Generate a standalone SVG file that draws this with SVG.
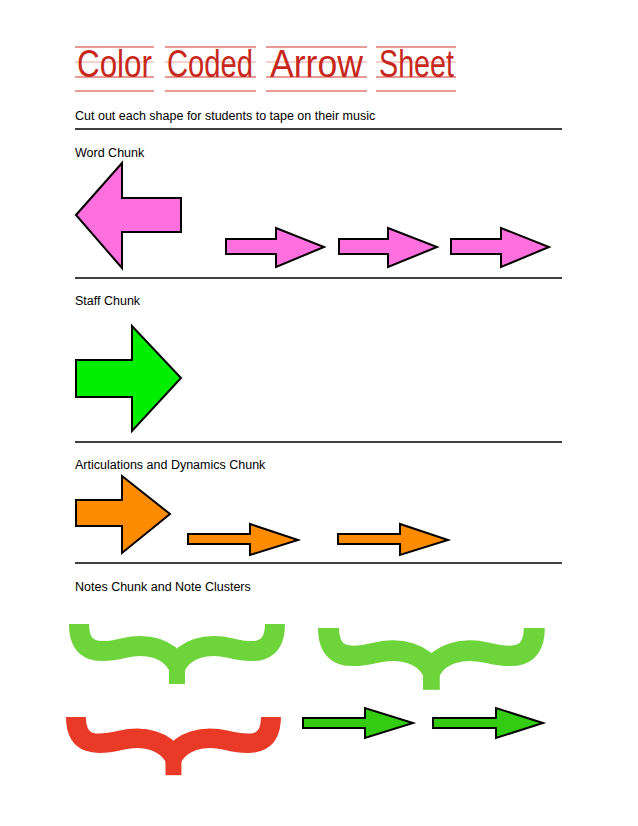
<svg xmlns="http://www.w3.org/2000/svg" width="638" height="826" viewBox="0 0 638 826">
<style>
.t{font-family:"Liberation Sans",Arial,sans-serif;font-size:12.5px;fill:#000}
.ti{font-family:"Liberation Sans",Arial,sans-serif;font-size:38px;fill:#c8281c}
.gl{stroke:#d2392b;stroke-width:1.2}
.gm{stroke:#e8a59e;stroke-width:1}
.sep{stroke:#000;stroke-width:1.3}
.ar{stroke:#000;stroke-width:2;stroke-linejoin:miter}
.br{fill:none;stroke-width:20}
</style>
<rect width="638" height="826" fill="#fff"/>
<g id="title">
<g class="gl"><line x1="75" y1="47" x2="154" y2="47"/><line x1="75" y1="77" x2="154" y2="77"/><line x1="75" y1="91" x2="154" y2="91"/>
<line x1="165" y1="47" x2="256" y2="47"/><line x1="165" y1="77" x2="256" y2="77"/><line x1="165" y1="91" x2="256" y2="91"/>
<line x1="266" y1="47" x2="367" y2="47"/><line x1="266" y1="77" x2="367" y2="77"/><line x1="266" y1="91" x2="367" y2="91"/>
<line x1="376" y1="47" x2="456" y2="47"/><line x1="376" y1="77" x2="456" y2="77"/><line x1="376" y1="91" x2="456" y2="91"/></g>
<g class="gm"><line x1="75" y1="62" x2="154" y2="62"/><line x1="165" y1="62" x2="256" y2="62"/><line x1="266" y1="62" x2="367" y2="62"/><line x1="376" y1="62" x2="456" y2="62"/></g>
<text class="ti" x="77" y="77" textLength="75" lengthAdjust="spacingAndGlyphs">Color</text>
<text class="ti" x="167" y="77" textLength="86" lengthAdjust="spacingAndGlyphs">Coded</text>
<text class="ti" x="270" y="77" textLength="93" lengthAdjust="spacingAndGlyphs">Arrow</text>
<text class="ti" x="379" y="77" textLength="75" lengthAdjust="spacingAndGlyphs">Sheet</text>
</g>
<g id="labels">
<text class="t" x="75" y="120">Cut out each shape for students to tape on their music</text>
<text class="t" x="75" y="157">Word Chunk</text>
<text class="t" x="75" y="305">Staff Chunk</text>
<text class="t" x="75" y="469">Articulations and Dynamics Chunk</text>
<text class="t" x="75" y="591">Notes Chunk and Note Clusters</text>
</g>
<g id="separators" class="sep">
<line x1="75" y1="129" x2="562" y2="129"/><line x1="75" y1="278" x2="562" y2="278"/><line x1="75" y1="442" x2="562" y2="442"/><line x1="75" y1="563" x2="562" y2="563"/>
</g>
<g id="word-chunk" class="ar" fill="#ff6fde">
<polygon points="76,215 122,163 122,198 181,198 181,232 122,232 122,268"/>
<polygon points="226,239 276,239 276,228 324,247 276,267 276,254 226,254"/>
<polygon points="339,239 388,239 388,228 437,247 388,267 388,254 339,254"/>
<polygon points="451,239 501,239 501,228 549,247 501,267 501,254 451,254"/>
</g>
<g id="staff-chunk" class="ar" fill="#00ee00">
<polygon points="76,360 132,360 132,326 181,378 132,431 132,397 76,397"/>
</g>
<g id="artic-chunk" class="ar" fill="#ff8c00">
<polygon points="76,500 122,500 122,476 170,514 122,553 122,526 76,526"/>
<polygon points="188,534 250,534 250,524 298,540 250,555 250,544 188,544"/>
<polygon points="338,534 400,534 400,524 448,540 400,555 400,544 338,544"/>
</g>
<g id="notes-chunk">
<g transform="translate(69,624)"><path class="br" stroke="#6dd43c" d="M10,0 C10,30 30,30 55,24 C80,18 100,26 108,40 C116,26 136,18 161,24 C186,30 206,30 206,0"/><rect x="100" y="36" width="16" height="24" fill="#6dd43c"/></g>
<g transform="translate(318,628) scale(1.05,1.03)"><path class="br" stroke="#6dd43c" d="M10,0 C10,30 30,30 55,24 C80,18 100,26 108,40 C116,26 136,18 161,24 C186,30 206,30 206,0"/><rect x="100" y="36" width="16" height="24" fill="#6dd43c"/></g>
<g transform="translate(66,717) scale(0.995,0.97)"><path class="br" stroke="#e83a26" d="M10,0 C10,30 30,30 55,24 C80,18 100,26 108,40 C116,26 136,18 161,24 C186,30 206,30 206,0"/><rect x="100" y="36" width="16" height="24" fill="#e83a26"/></g>
<g class="ar" fill="#33cc11">
<polygon points="303,718 365,718 365,708 413,723 365,738 365,728 303,728"/>
<polygon points="433,718 496,718 496,708 543,723 496,738 496,728 433,728"/>
</g>
</g>
</svg>
